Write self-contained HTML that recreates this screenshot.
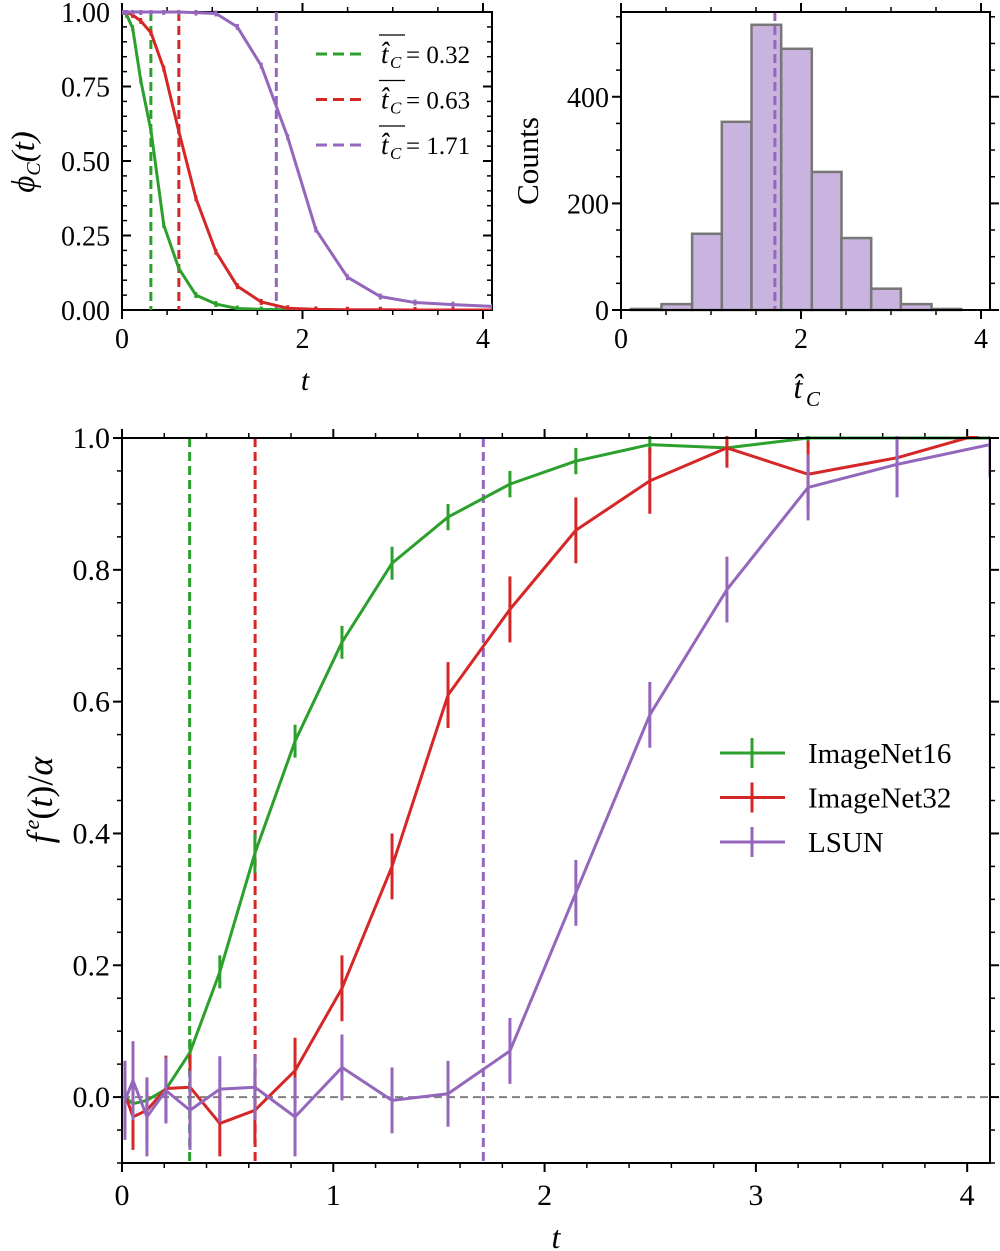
<!DOCTYPE html>
<html><head><meta charset="utf-8"><style>
html,body{margin:0;padding:0;background:#fff}
svg{display:block}
text{font-family:"Liberation Serif","DejaVu Serif",serif;fill:#000}
</style></head><body>
<svg id="fig" width="1000" height="1251" viewBox="0 0 1000 1251" xmlns="http://www.w3.org/2000/svg"></svg>
<script>
// ---- data ----
const tVals = [0.014,0.052,0.118,0.208,0.322,0.463,0.629,0.819,1.041,1.278,1.543,1.836,2.148,2.498,2.863,3.247,3.668,4.108];
const phiGreen = [1.0,0.99,0.946,0.77,0.6,0.285,0.14,0.05,0.02,0.005,0.002,0.001,0,0,0,0,0,0];
const phiRed = [1.0,1.0,0.99,0.97,0.93,0.81,0.60,0.375,0.195,0.08,0.027,0.006,0.002,0.001,0.001,0,0,0];
const phiPurple = [1.0,1.0,1.0,1.0,1.0,1.0,1.0,0.998,0.995,0.95,0.82,0.58,0.27,0.11,0.045,0.025,0.018,0.012];
const tcMeans = [0.32,0.63,1.71];
const tcLabels = ["0.32","0.63","1.71"];
const histEdges = [0.11,0.45,0.79,1.12,1.45,1.78,2.12,2.45,2.78,3.11,3.45,3.78];
const histCounts = [2,11,143,353,535,490,259,135,40,11,2];
const histMean = 1.71;
const feGreen = [0.0,-0.01,-0.005,0.012,0.068,0.19,0.37,0.54,0.69,0.81,0.88,0.93,0.965,0.99,0.985,1.0,1.0,1.0];
const errGreen = [0.01,0.01,0.01,0.015,0.02,0.025,0.03,0.025,0.025,0.025,0.02,0.02,0.02,0.015,0.015,0.015,0.01,0.01];
const feRed = [0.005,-0.03,-0.02,0.013,0.015,-0.04,-0.02,0.04,0.165,0.35,0.61,0.74,0.86,0.935,0.985,0.945,0.97,1.01];
const errRed = [0.05,0.05,0.045,0.05,0.05,0.05,0.05,0.05,0.05,0.05,0.05,0.05,0.05,0.05,0.03,0.05,0.03,0.02];
const fePurple = [-0.005,0.025,-0.03,0.01,-0.02,0.012,0.015,-0.03,0.045,-0.005,0.005,0.07,0.31,0.58,0.77,0.925,0.96,0.99];
const errPurple = [0.06,0.06,0.06,0.05,0.06,0.05,0.05,0.06,0.05,0.05,0.05,0.05,0.05,0.05,0.05,0.05,0.05,0.05];
const C = {g:"#2ca02c", r:"#d62728", p:"#9467bd"};

const svg = document.getElementById('fig');
const NS = "http://www.w3.org/2000/svg";
function el(tag, attrs, parent){const e=document.createElementNS(NS,tag);for(const k in attrs)e.setAttribute(k,attrs[k]);(parent||svg).appendChild(e);return e;}
function txt(s,x,y,size,anchor,parent,italic){const e=el('text',{x:x,y:y,'font-size':size,'text-anchor':anchor||'middle'},parent);if(italic)e.setAttribute('font-style','italic');e.textContent=s;return e;}

// ---- axes ----
const A1={x0:122,x1:492,y0:12,y1:310,tmin:0,tmax:4.1,vmin:0,vmax:1};
const A2={x0:621,x1:990,y0:12,y1:310,tmin:0,tmax:4.1,vmin:0,vmax:559};
const A3={x0:122,x1:990,y0:438,y1:1163,tmin:0,tmax:4.108,vmin:-0.1,vmax:1.0};
function sx(a,t){return a.x0+(t-a.tmin)/(a.tmax-a.tmin)*(a.x1-a.x0);}
function sy(a,v){return a.y1-(v-a.vmin)/(a.vmax-a.vmin)*(a.y1-a.y0);}

function frame(a,name,xMaj,xMin,yMaj,yMin,yLab,fs,yIn,xdy){
  const g=el('g',{});
  
  
  el('rect',{x:a.x0,y:a.y0,width:a.x1-a.x0,height:a.y1-a.y0,fill:'none',stroke:'#000','stroke-width':2},g);
  xMin.forEach(t=>{const x=sx(a,t);el('line',{x1:x,x2:x,y1:a.y1,y2:a.y1+5,stroke:'#000','stroke-width':1.5},g);el('line',{x1:x,x2:x,y1:a.y0,y2:a.y0-5,stroke:'#000','stroke-width':1.5},g);});
  xMaj.forEach(t=>{const x=sx(a,t);el('line',{x1:x,x2:x,y1:a.y1,y2:a.y1+9,stroke:'#000','stroke-width':2},g);el('line',{x1:x,x2:x,y1:a.y0,y2:a.y0-9,stroke:'#000','stroke-width':2},g);txt(String(t),x,a.y1+xdy,fs,'middle',g);});
  const d=yIn?1:-1;
  yMin.forEach(v=>{const y=sy(a,v);el('line',{x1:a.x0,x2:a.x0+d*5,y1:y,y2:y,stroke:'#000','stroke-width':1.5},g);el('line',{x1:a.x1,x2:a.x1-d*5,y1:y,y2:y,stroke:'#000','stroke-width':1.5},g);});
  yMaj.forEach((v,i)=>{const y=sy(a,v);el('line',{x1:a.x0,x2:a.x0+d*9,y1:y,y2:y,stroke:'#000','stroke-width':2},g);el('line',{x1:a.x1,x2:a.x1-d*9,y1:y,y2:y,stroke:'#000','stroke-width':2},g);txt(yLab[i],a.x0-12,y+10,fs,'end',g);});
}
function range(a,b,s){const r=[];for(let v=a;v<=b+1e-9;v+=s)r.push(+v.toFixed(4));return r;}

// ---- panel 1 ----
frame(A1,'phi-panel',[0,2,4],range(0.5,4,0.5),[0,0.25,0.5,0.75,1],range(0.05,1,0.05),["0.00","0.25","0.50","0.75","1.00"],28,true,38);
const cp1=el('clipPath',{id:'c1'});el('rect',{x:A1.x0,y:A1.y0-2,width:A1.x1-A1.x0,height:A1.y1-A1.y0+2},cp1);
const cp3=el('clipPath',{id:'c3'});el('rect',{x:A3.x0,y:A3.y0-2,width:A3.x1-A3.x0,height:A3.y1-A3.y0+2},cp3);
function series(a,ys,col,name,clip,errs,w){
  const g=el('g',{'clip-path':'url(#'+clip+')'});
  
  
  el('polyline',{points:tVals.map((t,i)=>sx(a,t)+','+sy(a,ys[i])).join(' '),fill:'none',stroke:col,'stroke-width':w,'stroke-linejoin':'round'},g);
  tVals.forEach((t,i)=>{const e=errs?errs[i]:0.01;const ln=el('line',{x1:sx(a,t),x2:sx(a,t),y1:sy(a,ys[i]-e),y2:sy(a,ys[i]+e),stroke:col,'stroke-width':w},g);
    
    });
}
const vcols=[C.g,C.r,C.p];
tcMeans.forEach((m,i)=>{const x=sx(A1,m);const l=el('line',{x1:x,x2:x,y1:A1.y0,y2:A1.y1,stroke:vcols[i],'stroke-width':3,'stroke-dasharray':'9,5'});
  
  });
series(A1,phiGreen,C.g,'phi-imagenet16','c1',null,3);
series(A1,phiRed,C.r,'phi-imagenet32','c1',null,3);
series(A1,phiPurple,C.p,'phi-lsun','c1',null,3);
// legend 1
tcLabels.forEach((s,i)=>{const y=54+i*45.5;
  const g=el('g',{});
  
  
  el('line',{x1:316,x2:364,y1:y,y2:y,stroke:vcols[i],'stroke-width':3,'stroke-dasharray':'11,6'},g);
  txt('t̂',381,y+9,27,'start',g,true);
  el('line',{x1:379,x2:405,y1:y-19,y2:y-19,stroke:'#000','stroke-width':1.3},g);
  txt('C',390,y+14,17,'start',g,true);
  txt('= '+s,406,y+9,25,'start',g);
});
txt('t',305,390,30,'middle',null,true);
const yl1=txt('ϕ',0,0,33,'middle',null,true);yl1.setAttribute('transform','translate(34,162) rotate(-90)');

yl1.innerHTML='<tspan font-style="italic">ϕ</tspan><tspan font-size="20" font-style="italic" dy="6">C</tspan><tspan dy="-6">(</tspan><tspan font-style="italic">t</tspan>)';

// ---- panel 2 ----
frame(A2,'histogram-panel',[0,2,4],range(0.5,4,0.5),[0,200,400],range(50,550,50),["0","200","400"],28,false,38);
histCounts.forEach((c,i)=>{const x0=sx(A2,histEdges[i]),x1=sx(A2,histEdges[i+1]);
  const r=el('rect',{x:x0,y:sy(A2,c),width:x1-x0,height:A2.y1-sy(A2,c),fill:'#c9b3df',stroke:'#777','stroke-width':2.5});
  
  });
{const x=sx(A2,histMean);const l=el('line',{x1:x,x2:x,y1:A2.y0,y2:A2.y1,stroke:C.p,'stroke-width':3,'stroke-dasharray':'9,5'});

}
el('rect',{x:A2.x0,y:A2.y0,width:A2.x1-A2.x0,height:A2.y1-A2.y0,fill:'none',stroke:'#000','stroke-width':2});
const xl2=txt('t̂',798,398,32,'middle',null,true);
txt('C',813,406,21,'middle',null,true);
const yl2=txt('Counts',0,0,31,'middle');yl2.setAttribute('transform','translate(538,161) rotate(-90)');


// ---- panel 3 ----
frame(A3,'fe-panel',[0,1,2,3,4],range(0.2,4,0.2),[0,0.2,0.4,0.6,0.8,1.0],range(-0.1,1,0.05),["0.0","0.2","0.4","0.6","0.8","1.0"],30,false,42);
{const y=sy(A3,0);const l=el('line',{x1:A3.x0,x2:A3.x1,y1:y,y2:y,stroke:'#808080','stroke-width':2,'stroke-dasharray':'8,5'});

}
tcMeans.forEach((m,i)=>{const x=sx(A3,m);const l=el('line',{x1:x,x2:x,y1:A3.y0,y2:A3.y1,stroke:vcols[i],'stroke-width':3,'stroke-dasharray':'9,5'});
  
  });
series(A3,feGreen,C.g,'fe-imagenet16','c3',errGreen,3);
series(A3,feRed,C.r,'fe-imagenet32','c3',errRed,3);
series(A3,fePurple,C.p,'fe-lsun','c3',errPurple,3);
el('rect',{x:A3.x0,y:A3.y0,width:A3.x1-A3.x0,height:A3.y1-A3.y0,fill:'none',stroke:'#000','stroke-width':2});
["ImageNet16","ImageNet32","LSUN"].forEach((s,i)=>{const y=753+i*44.5;const col=vcols[i];
  const g=el('g',{});
  
  
  el('line',{x1:720,x2:785,y1:y,y2:y,stroke:col,'stroke-width':3},g);
  el('line',{x1:752,x2:752,y1:y-15,y2:y+15,stroke:col,'stroke-width':3},g);
  txt(s,808,y+10,29,'start',g);
});
txt('t',556,1248,32,'middle',null,true);
const yl3=txt('',0,0,36,'middle');yl3.setAttribute('transform','translate(52,800) rotate(-90)');

yl3.innerHTML='<tspan font-style="italic">f</tspan><tspan font-size="22" font-style="italic" dx="4" dy="-13">e</tspan><tspan dy="13">(</tspan><tspan font-style="italic">t</tspan>)/<tspan font-style="italic">α</tspan>';
</script>
</body></html>
